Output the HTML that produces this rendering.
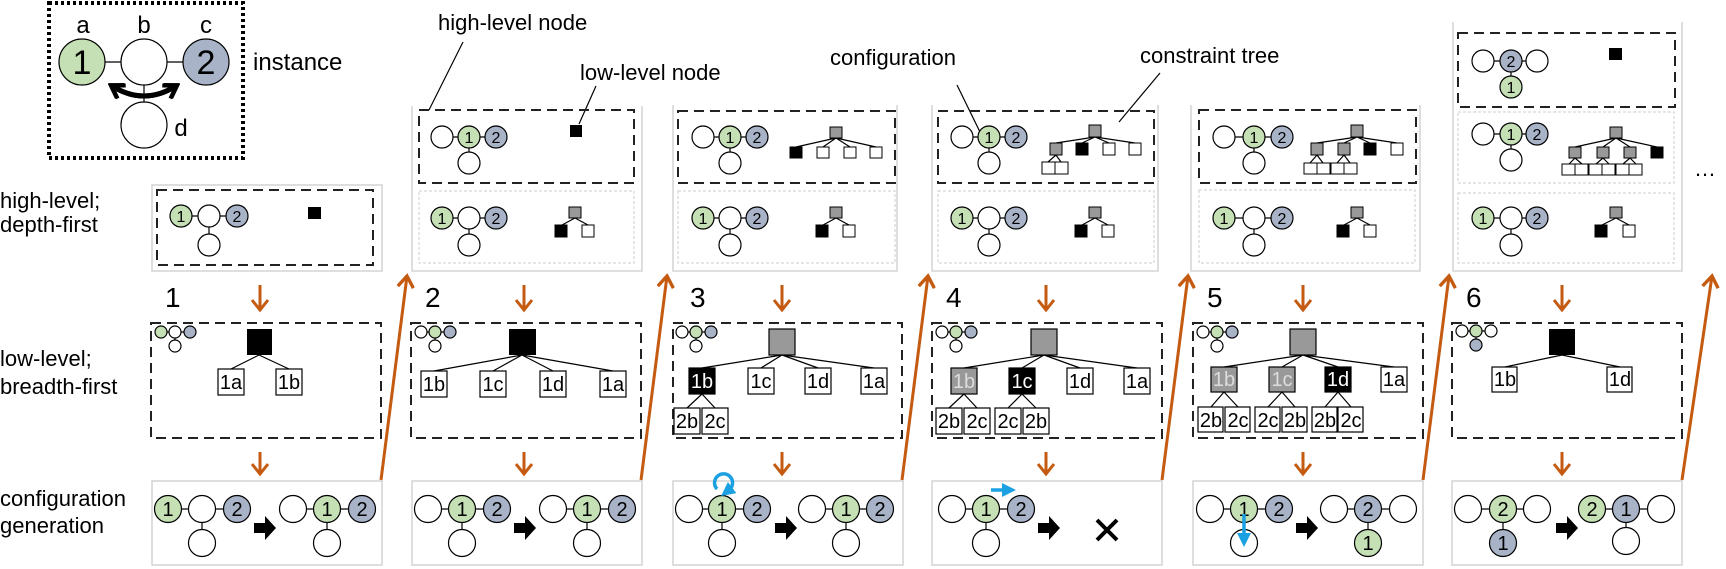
<!DOCTYPE html>
<html><head><meta charset="utf-8"><style>
html,body{margin:0;padding:0;background:#fff;}
svg{display:block;font-family:"Liberation Sans",Arial,sans-serif;}
</style></head><body>
<svg width="1726" height="569" viewBox="0 0 1726 569" xmlns="http://www.w3.org/2000/svg">
<defs>
<marker id="oh" markerUnits="userSpaceOnUse" markerWidth="18" markerHeight="18" viewBox="0 0 16 16" refX="13" refY="8" orient="auto"><path d="M3,1 L13,8 L3,15" fill="none" stroke="#c55a11" stroke-width="3"/></marker>
<marker id="bh" markerUnits="userSpaceOnUse" markerWidth="18" markerHeight="18" viewBox="0 0 16 16" refX="12" refY="8" orient="auto"><path d="M2,1 L13,8 L2,15" fill="none" stroke="#000" stroke-width="4"/></marker>
<marker id="ch" markerUnits="userSpaceOnUse" markerWidth="14" markerHeight="14" viewBox="0 0 14 14" refX="4" refY="7" orient="auto"><path d="M0,0 L14,7 L0,14 Z" fill="#1ba1e2"/></marker>
</defs>
<style>
.c{stroke:#000;stroke-width:1.2;}
.w{fill:#fff}.g{fill:#c5e0b4}.b{fill:#a8b3c8}
.ln{stroke:#000;stroke-width:1.2}
.d2{fill:none;stroke:#222;stroke-width:2;stroke-dasharray:10,6}
.dl{fill:none;stroke:#ccc;stroke-width:1;stroke-dasharray:3,2}
.gb{fill:none;stroke:#ccc;stroke-width:1.3}
.o{stroke:#c55a11;stroke-width:3;fill:none}
.t20{font-size:20px;text-anchor:middle}
.t16{font-size:16px;text-anchor:middle}
.bx{fill:#fff;stroke:#000;stroke-width:1.2}
.bk{fill:#000;stroke:#000;stroke-width:1.2}
.gy{fill:#999;stroke:#000;stroke-width:1.2}
.sq{stroke:#000;stroke-width:1}
</style>

<!-- instance -->
<rect x="49" y="3" width="194" height="155" fill="none" stroke="#000" stroke-width="4" stroke-dasharray="3,3"/>
<line x1="82" y1="62" x2="206" y2="62" class="ln"/><line x1="144" y1="62" x2="144" y2="125" class="ln"/>
<circle cx="82" cy="62" r="23" class="c g"/><circle cx="144" cy="62" r="23" class="c w"/><circle cx="206" cy="62" r="23" class="c b"/><circle cx="144" cy="125" r="23" class="c w"/>
<text x="82" y="74" font-size="34" text-anchor="middle">1</text><text x="206" y="74" font-size="34" text-anchor="middle">2</text>
<path d="M176,86 Q144,106 112,86" fill="none" stroke="#000" stroke-width="5" marker-end="url(#bh)"/>
<path d="M112,86 Q144,106 176,86" fill="none" stroke="#000" stroke-width="5" marker-end="url(#bh)"/>
<text x="83" y="33" font-size="24" text-anchor="middle">a</text><text x="144" y="33" font-size="24" text-anchor="middle">b</text><text x="206" y="33" font-size="24" text-anchor="middle">c</text><text x="181" y="136" font-size="24" text-anchor="middle">d</text>
<text x="253" y="70" font-size="24">instance</text>

<!-- row labels -->
<g font-size="22">
<text x="0" y="208">high-level;</text><text x="0" y="232">depth-first</text>
<text x="0" y="366">low-level;</text><text x="0" y="394">breadth-first</text>
<text x="0" y="506">configuration</text><text x="0" y="533">generation</text>
</g>

<!-- annotations -->
<g font-size="22">
<text x="438" y="30">high-level node</text>
<text x="580" y="80">low-level node</text>
<text x="830" y="65">configuration</text>
<text x="1140" y="63">constraint tree</text>
</g>
<line x1="463" y1="42" x2="429" y2="110" class="ln"/>
<line x1="596" y1="86" x2="579" y2="124" class="ln"/>
<line x1="957" y1="85" x2="980" y2="132" class="ln"/>
<line x1="1160" y1="73" x2="1119" y2="122" class="ln"/>
<text x="1694" y="176" font-size="22">…</text>

<!-- col1 high box -->
<rect x="152" y="185" width="230" height="86" class="gb"/>
<rect x="157" y="190" width="216" height="75" class="d2"/>
<line x1="181" y1="216" x2="237" y2="216" class="ln"/><line x1="209" y1="216" x2="209" y2="245" class="ln"/>
<circle cx="181" cy="216" r="11" class="c g"/><circle cx="209" cy="216" r="11" class="c w"/><circle cx="237" cy="216" r="11" class="c b"/><circle cx="209" cy="245" r="11" class="c w"/>
<text x="181" y="222" class="t16">1</text><text x="237" y="222" class="t16">2</text>
<rect x="308" y="207" width="13" height="12" fill="#000"/>

<!-- stacks: gray frames -->
<g class="gb">
<path d="M412,106 V271 H642 V106"/>
<path d="M673,105 V271 H897 V105"/>
<path d="M932,105 V271 H1158 V105"/>
<path d="M1191,105 V271 H1420 V105"/>
<path d="M1453,22 V271 H1682 V22"/>
</g>

<!-- col2 stack -->
<g transform="translate(412,0)">
<rect x="7" y="110" width="215" height="73" class="d2"/>
<rect x="7" y="191" width="215" height="72" class="dl"/>
<line x1="30" y1="137" x2="84" y2="137" class="ln"/><line x1="57" y1="137" x2="57" y2="163" class="ln"/>
<circle cx="30" cy="137" r="11" class="c w"/><circle cx="57" cy="137" r="11" class="c g"/><circle cx="84" cy="137" r="11" class="c b"/><circle cx="57" cy="163" r="11" class="c w"/>
<text x="57" y="143" class="t16">1</text><text x="84" y="143" class="t16">2</text>
<rect x="158" y="125" width="12" height="12" fill="#000"/>
<line x1="30" y1="218" x2="84" y2="218" class="ln"/><line x1="57" y1="218" x2="57" y2="245" class="ln"/>
<circle cx="30" cy="218" r="11" class="c g"/><circle cx="57" cy="218" r="11" class="c w"/><circle cx="84" cy="218" r="11" class="c b"/><circle cx="57" cy="245" r="11" class="c w"/>
<text x="30" y="224" class="t16">1</text><text x="84" y="224" class="t16">2</text>
<path d="M163,218 L150,225 M163,218 L176,225" class="ln"/>
<rect x="157" y="207" width="12" height="11" class="gy sq"/><rect x="143" y="225" width="12" height="12" class="bk sq"/><rect x="170" y="225" width="12" height="12" class="bx sq"/>
</g>

<!-- col3 stack -->
<g transform="translate(673,0)">
<rect x="5" y="111" width="217" height="72" class="d2"/>
<rect x="5" y="191" width="217" height="72" class="dl"/>
<line x1="30" y1="137" x2="84" y2="137" class="ln"/><line x1="57" y1="137" x2="57" y2="163" class="ln"/>
<circle cx="30" cy="137" r="11" class="c w"/><circle cx="57" cy="137" r="11" class="c g"/><circle cx="84" cy="137" r="11" class="c b"/><circle cx="57" cy="163" r="11" class="c w"/>
<text x="57" y="143" class="t16">1</text><text x="84" y="143" class="t16">2</text>
<path d="M163,138 L123,147 M163,138 L150,147 M163,138 L177,147 M163,138 L203,147" class="ln"/>
<rect x="157" y="127" width="12" height="11" class="gy sq"/>
<rect x="117" y="147" width="12" height="11" class="bk sq"/><rect x="144" y="147" width="12" height="11" class="bx sq"/><rect x="171" y="147" width="12" height="11" class="bx sq"/><rect x="197" y="147" width="12" height="11" class="bx sq"/>
<line x1="30" y1="218" x2="84" y2="218" class="ln"/><line x1="57" y1="218" x2="57" y2="245" class="ln"/>
<circle cx="30" cy="218" r="11" class="c g"/><circle cx="57" cy="218" r="11" class="c w"/><circle cx="84" cy="218" r="11" class="c b"/><circle cx="57" cy="245" r="11" class="c w"/>
<text x="30" y="224" class="t16">1</text><text x="84" y="224" class="t16">2</text>
<path d="M163,218 L150,225 M163,218 L176,225" class="ln"/>
<rect x="157" y="207" width="12" height="11" class="gy sq"/><rect x="143" y="225" width="12" height="12" class="bk sq"/><rect x="170" y="225" width="12" height="12" class="bx sq"/>
</g>

<!-- col4 stack -->
<g transform="translate(932,0)">
<rect x="6" y="111" width="216" height="72" class="d2"/>
<rect x="6" y="191" width="216" height="72" class="dl"/>
<line x1="30" y1="137" x2="84" y2="137" class="ln"/><line x1="57" y1="137" x2="57" y2="163" class="ln"/>
<circle cx="30" cy="137" r="11" class="c w"/><circle cx="57" cy="137" r="11" class="c g"/><circle cx="84" cy="137" r="11" class="c b"/><circle cx="57" cy="163" r="11" class="c w"/>
<text x="57" y="143" class="t16">1</text><text x="84" y="143" class="t16">2</text>
<path d="M163,137 L124,143 M163,137 L150,143 M163,137 L177,143 M163,137 L203,143 M124,155 L116,162 M124,155 L129,162" class="ln"/>
<rect x="157" y="125" width="12" height="12" class="gy sq"/>
<rect x="118" y="143" width="12" height="12" class="gy sq"/><rect x="144" y="143" width="12" height="12" class="bk sq"/><rect x="171" y="143" width="12" height="12" class="bx sq"/><rect x="197" y="143" width="12" height="12" class="bx sq"/>
<rect x="110" y="162" width="13" height="12" class="bx sq"/><rect x="123" y="162" width="13" height="12" class="bx sq"/>
<line x1="30" y1="218" x2="84" y2="218" class="ln"/><line x1="57" y1="218" x2="57" y2="245" class="ln"/>
<circle cx="30" cy="218" r="11" class="c g"/><circle cx="57" cy="218" r="11" class="c w"/><circle cx="84" cy="218" r="11" class="c b"/><circle cx="57" cy="245" r="11" class="c w"/>
<text x="30" y="224" class="t16">1</text><text x="84" y="224" class="t16">2</text>
<path d="M163,218 L150,225 M163,218 L176,225" class="ln"/>
<rect x="157" y="207" width="12" height="11" class="gy sq"/><rect x="143" y="225" width="12" height="12" class="bk sq"/><rect x="170" y="225" width="12" height="12" class="bx sq"/>
</g>

<!-- col5 stack -->
<g transform="translate(1191,0)">
<rect x="8" y="110" width="217" height="73" class="d2"/>
<rect x="8" y="190" width="216" height="73" class="dl"/>
<line x1="33" y1="137" x2="91" y2="137" class="ln"/><line x1="63" y1="137" x2="63" y2="163" class="ln"/>
<circle cx="33" cy="137" r="11" class="c w"/><circle cx="63" cy="137" r="11" class="c g"/><circle cx="91" cy="137" r="11" class="c b"/><circle cx="63" cy="163" r="11" class="c w"/>
<text x="63" y="143" class="t16">1</text><text x="91" y="143" class="t16">2</text>
<path d="M166,137 L126,143 M166,137 L153,143 M166,137 L179,143 M166,137 L206,143 M126,155 L119,163 M126,155 L132,163 M153,155 L146,163 M153,155 L159,163" class="ln"/>
<rect x="160" y="125" width="12" height="12" class="gy sq"/>
<rect x="120" y="143" width="12" height="12" class="gy sq"/><rect x="147" y="143" width="12" height="12" class="gy sq"/><rect x="173" y="143" width="12" height="12" class="bk sq"/><rect x="200" y="143" width="12" height="12" class="bx sq"/>
<rect x="113" y="163" width="13" height="11" class="bx sq"/><rect x="126" y="163" width="13" height="11" class="bx sq"/><rect x="140" y="163" width="13" height="11" class="bx sq"/><rect x="153" y="163" width="13" height="11" class="bx sq"/>
<line x1="33" y1="218" x2="91" y2="218" class="ln"/><line x1="63" y1="218" x2="63" y2="245" class="ln"/>
<circle cx="33" cy="218" r="11" class="c g"/><circle cx="63" cy="218" r="11" class="c w"/><circle cx="91" cy="218" r="11" class="c b"/><circle cx="63" cy="245" r="11" class="c w"/>
<text x="33" y="224" class="t16">1</text><text x="91" y="224" class="t16">2</text>
<path d="M166,218 L153,225 M166,218 L179,225" class="ln"/>
<rect x="160" y="207" width="12" height="11" class="gy sq"/><rect x="146" y="225" width="12" height="12" class="bk sq"/><rect x="173" y="225" width="12" height="12" class="bx sq"/>
</g>

<!-- col6 stack -->
<g transform="translate(1453,0)">
<rect x="5" y="33" width="217" height="74" class="d2"/>
<rect x="5" y="112" width="216" height="71" class="dl"/>
<rect x="5" y="193" width="216" height="70" class="dl"/>
<line x1="30" y1="61" x2="84" y2="61" class="ln"/><line x1="58" y1="61" x2="58" y2="87" class="ln"/>
<circle cx="30" cy="61" r="11" class="c w"/><circle cx="58" cy="61" r="11" class="c b"/><circle cx="84" cy="61" r="11" class="c w"/><circle cx="58" cy="87" r="11" class="c g"/>
<text x="58" y="67" class="t16">2</text><text x="58" y="93" class="t16">1</text>
<rect x="156" y="48" width="13" height="12" fill="#000"/>
<line x1="30" y1="134" x2="84" y2="134" class="ln"/><line x1="58" y1="134" x2="58" y2="160" class="ln"/>
<circle cx="30" cy="134" r="11" class="c w"/><circle cx="58" cy="134" r="11" class="c g"/><circle cx="84" cy="134" r="11" class="c b"/><circle cx="58" cy="160" r="11" class="c w"/>
<text x="58" y="140" class="t16">1</text><text x="84" y="140" class="t16">2</text>
<path d="M163,138 L122,147 M163,138 L150,147 M163,138 L177,147 M163,138 L204,147 M122,158 L116,164 M122,158 L129,164 M150,158 L143,164 M150,158 L156,164 M177,158 L170,164 M177,158 L183,164" class="ln"/>
<rect x="157" y="127" width="12" height="11" class="gy sq"/>
<rect x="116" y="147" width="12" height="11" class="gy sq"/><rect x="144" y="147" width="12" height="11" class="gy sq"/><rect x="171" y="147" width="12" height="11" class="gy sq"/><rect x="198" y="147" width="12" height="11" class="bk sq"/>
<rect x="109" y="164" width="13" height="11" class="bx sq"/><rect x="122" y="164" width="13" height="11" class="bx sq"/><rect x="136" y="164" width="13" height="11" class="bx sq"/><rect x="149" y="164" width="13" height="11" class="bx sq"/><rect x="163" y="164" width="13" height="11" class="bx sq"/><rect x="176" y="164" width="13" height="11" class="bx sq"/>
<line x1="30" y1="218" x2="84" y2="218" class="ln"/><line x1="58" y1="218" x2="58" y2="245" class="ln"/>
<circle cx="30" cy="218" r="11" class="c g"/><circle cx="58" cy="218" r="11" class="c w"/><circle cx="84" cy="218" r="11" class="c b"/><circle cx="58" cy="245" r="11" class="c w"/>
<text x="30" y="224" class="t16">1</text><text x="84" y="224" class="t16">2</text>
<path d="M163,218 L149,225 M163,218 L176,225" class="ln"/>
<rect x="157" y="207" width="12" height="11" class="gy sq"/><rect x="142" y="225" width="12" height="12" class="bk sq"/><rect x="170" y="225" width="12" height="12" class="bx sq"/>
</g>

<!-- ===== lower columns ===== -->
<!-- common per column: number, arrows, boxes -->
<g transform="translate(151,0)">
<text x="14" y="307" font-size="28">1</text>
<path d="M109,285 V309 M101,300 L109,310 L117,300" class="o"/>
<path d="M109,452 V473 M101,464 L109,474 L117,464" class="o"/>
<rect x="0" y="323" width="230" height="115" class="d2"/>
<rect x="1" y="481" width="230" height="84" class="gb"/>
<line x1="230" y1="480" x2="256" y2="276" class="o" marker-end="url(#oh)"/>
<line x1="10" y1="332" x2="39" y2="332" class="ln"/><line x1="24" y1="332" x2="24" y2="346" class="ln"/>
<circle cx="10" cy="332" r="6" class="c g"/><circle cx="24" cy="332" r="6" class="c w"/><circle cx="39" cy="332" r="6" class="c b"/><circle cx="24" cy="346" r="6" class="c w"/>
<path d="M108,355 L80,369 M108,355 L138,369" class="ln"/>
<rect x="96" y="329" width="25" height="26" fill="#000"/>
<rect x="67" y="369" width="26" height="26" class="bx"/><text x="80" y="389" class="t20">1a</text>
<rect x="125" y="369" width="26" height="26" class="bx"/><text x="138" y="389" class="t20">1b</text>
<!-- config gen -->
<line x1="17" y1="509" x2="86" y2="509" class="ln"/><line x1="51" y1="509" x2="51" y2="543" class="ln"/>
<circle cx="17" cy="509" r="13.5" class="c g"/><circle cx="51" cy="509" r="13.5" class="c w"/><circle cx="86" cy="509" r="13.5" class="c b"/><circle cx="51" cy="543" r="13.5" class="c w"/>
<text x="17" y="516" class="t20">1</text><text x="86" y="516" class="t20">2</text>
<polygon points="103,523 114,523 114,516 125,528 114,540 114,533 103,533"/>
<line x1="142" y1="509" x2="211" y2="509" class="ln"/><line x1="176" y1="509" x2="176" y2="543" class="ln"/>
<circle cx="142" cy="509" r="13.5" class="c w"/><circle cx="176" cy="509" r="13.5" class="c g"/><circle cx="211" cy="509" r="13.5" class="c b"/><circle cx="176" cy="543" r="13.5" class="c w"/>
<text x="176" y="516" class="t20">1</text><text x="211" y="516" class="t20">2</text>
</g>

<g transform="translate(411,0)">
<text x="14" y="307" font-size="28">2</text>
<path d="M113,285 V309 M105,300 L113,310 L121,300" class="o"/>
<path d="M113,452 V473 M105,464 L113,474 L121,464" class="o"/>
<rect x="0" y="323" width="230" height="115" class="d2"/>
<rect x="1" y="481" width="230" height="84" class="gb"/>
<line x1="230" y1="480" x2="256" y2="276" class="o" marker-end="url(#oh)"/>
<line x1="10" y1="332" x2="39" y2="332" class="ln"/><line x1="24" y1="332" x2="24" y2="346" class="ln"/>
<circle cx="10" cy="332" r="6" class="c w"/><circle cx="24" cy="332" r="6" class="c g"/><circle cx="39" cy="332" r="6" class="c b"/><circle cx="24" cy="346" r="6" class="c w"/>
<path d="M111,355 L23,371 M111,355 L82,371 M111,355 L142,371 M111,355 L202,371" class="ln"/>
<rect x="98" y="329" width="27" height="26" fill="#000"/>
<rect x="10" y="371" width="26" height="26" class="bx"/><text x="23" y="391" class="t20">1b</text>
<rect x="69" y="371" width="26" height="26" class="bx"/><text x="82" y="391" class="t20">1c</text>
<rect x="129" y="371" width="26" height="26" class="bx"/><text x="142" y="391" class="t20">1d</text>
<rect x="189" y="371" width="26" height="26" class="bx"/><text x="202" y="391" class="t20">1a</text>
<line x1="17" y1="509" x2="86" y2="509" class="ln"/><line x1="51" y1="509" x2="51" y2="543" class="ln"/>
<circle cx="17" cy="509" r="13.5" class="c w"/><circle cx="51" cy="509" r="13.5" class="c g"/><circle cx="86" cy="509" r="13.5" class="c b"/><circle cx="51" cy="543" r="13.5" class="c w"/>
<text x="51" y="516" class="t20">1</text><text x="86" y="516" class="t20">2</text>
<polygon points="103,523 114,523 114,516 125,528 114,540 114,533 103,533"/>
<line x1="142" y1="509" x2="211" y2="509" class="ln"/><line x1="176" y1="509" x2="176" y2="543" class="ln"/>
<circle cx="142" cy="509" r="13.5" class="c w"/><circle cx="176" cy="509" r="13.5" class="c g"/><circle cx="211" cy="509" r="13.5" class="c b"/><circle cx="176" cy="543" r="13.5" class="c w"/>
<text x="176" y="516" class="t20">1</text><text x="211" y="516" class="t20">2</text>
</g>

<g transform="translate(672,0)">
<text x="18" y="307" font-size="28">3</text>
<path d="M110,285 V309 M102,300 L110,310 L118,300" class="o"/>
<path d="M110,452 V473 M102,464 L110,474 L118,464" class="o"/>
<rect x="1" y="323" width="229" height="115" class="d2"/>
<rect x="1" y="481" width="230" height="84" class="gb"/>
<line x1="230" y1="480" x2="256" y2="276" class="o" marker-end="url(#oh)"/>
<line x1="10" y1="332" x2="39" y2="332" class="ln"/><line x1="24" y1="332" x2="24" y2="346" class="ln"/>
<circle cx="10" cy="332" r="6" class="c w"/><circle cx="24" cy="332" r="6" class="c g"/><circle cx="39" cy="332" r="6" class="c b"/><circle cx="24" cy="346" r="6" class="c w"/>
<path d="M110,355 L30,368 M110,355 L89,368 M110,355 L146,368 M110,355 L202,368 M30,394 L15,408 M30,394 L43,408" class="ln"/>
<rect x="97" y="329" width="26" height="26" class="gy"/>
<rect x="17" y="368" width="26" height="26" class="bk"/><text x="30" y="388" class="t20" fill="#fff">1b</text>
<rect x="76" y="368" width="26" height="26" class="bx"/><text x="89" y="388" class="t20">1c</text>
<rect x="133" y="368" width="26" height="26" class="bx"/><text x="146" y="388" class="t20">1d</text>
<rect x="189" y="368" width="26" height="26" class="bx"/><text x="202" y="388" class="t20">1a</text>
<rect x="2" y="408" width="26" height="26" class="bx"/><text x="15" y="428" class="t20">2b</text>
<rect x="30" y="408" width="26" height="26" class="bx"/><text x="43" y="428" class="t20">2c</text>
<line x1="17" y1="509" x2="85" y2="509" class="ln"/><line x1="50" y1="509" x2="50" y2="543" class="ln"/>
<circle cx="17" cy="509" r="13.5" class="c w"/><circle cx="50" cy="509" r="13.5" class="c g"/><circle cx="85" cy="509" r="13.5" class="c b"/><circle cx="50" cy="543" r="13.5" class="c w"/>
<text x="50" y="516" class="t20">1</text><text x="85" y="516" class="t20">2</text>
<path d="M45,489 A9,9 0 1 1 57,490" fill="none" stroke="#1ba1e2" stroke-width="3.5" marker-end="url(#ch)"/>
<polygon points="103,523 114,523 114,516 125,528 114,540 114,533 103,533"/>
<line x1="140" y1="509" x2="208" y2="509" class="ln"/><line x1="174" y1="509" x2="174" y2="543" class="ln"/>
<circle cx="140" cy="509" r="13.5" class="c w"/><circle cx="174" cy="509" r="13.5" class="c g"/><circle cx="208" cy="509" r="13.5" class="c b"/><circle cx="174" cy="543" r="13.5" class="c w"/>
<text x="174" y="516" class="t20">1</text><text x="208" y="516" class="t20">2</text>
</g>

<g transform="translate(932,0)">
<text x="14" y="307" font-size="28">4</text>
<path d="M114,285 V309 M106,300 L114,310 L122,300" class="o"/>
<path d="M114,452 V473 M106,464 L114,474 L122,464" class="o"/>
<rect x="0" y="323" width="230" height="115" class="d2"/>
<rect x="0" y="481" width="230" height="84" class="gb"/>
<line x1="230" y1="480" x2="256" y2="276" class="o" marker-end="url(#oh)"/>
<line x1="10" y1="332" x2="39" y2="332" class="ln"/><line x1="24" y1="332" x2="24" y2="346" class="ln"/>
<circle cx="10" cy="332" r="6" class="c w"/><circle cx="24" cy="332" r="6" class="c g"/><circle cx="39" cy="332" r="6" class="c b"/><circle cx="24" cy="346" r="6" class="c w"/>
<path d="M112,355 L32,368 M112,355 L90,368 M112,355 L148,368 M112,355 L205,368 M32,394 L17,408 M32,394 L45,408 M90,394 L76,408 M90,394 L104,408" class="ln"/>
<rect x="99" y="329" width="26" height="26" class="gy"/>
<rect x="19" y="368" width="26" height="26" class="gy"/><text x="32" y="388" class="t20" fill="#ddd">1b</text>
<rect x="77" y="368" width="26" height="26" class="bk"/><text x="90" y="388" class="t20" fill="#fff">1c</text>
<rect x="135" y="368" width="26" height="26" class="bx"/><text x="148" y="388" class="t20">1d</text>
<rect x="192" y="368" width="26" height="26" class="bx"/><text x="205" y="388" class="t20">1a</text>
<rect x="4" y="408" width="26" height="26" class="bx"/><text x="17" y="428" class="t20">2b</text>
<rect x="32" y="408" width="26" height="26" class="bx"/><text x="45" y="428" class="t20">2c</text>
<rect x="63" y="408" width="26" height="26" class="bx"/><text x="76" y="428" class="t20">2c</text>
<rect x="91" y="408" width="26" height="26" class="bx"/><text x="104" y="428" class="t20">2b</text>
<line x1="20" y1="509" x2="89" y2="509" class="ln"/><line x1="54" y1="509" x2="54" y2="543" class="ln"/>
<circle cx="20" cy="509" r="13.5" class="c w"/><circle cx="54" cy="509" r="13.5" class="c g"/><circle cx="89" cy="509" r="13.5" class="c b"/><circle cx="54" cy="543" r="13.5" class="c w"/>
<text x="54" y="516" class="t20">1</text><text x="89" y="516" class="t20">2</text>
<line x1="59" y1="490" x2="74" y2="490" stroke="#1ba1e2" stroke-width="3.5" marker-end="url(#ch)"/>
<polygon points="106,523 117,523 117,516 128,528 117,540 117,533 106,533"/>
<path d="M165,520 L185,540 M185,520 L165,540" stroke="#000" stroke-width="4"/>
</g>

<g transform="translate(1193,0)">
<text x="14" y="307" font-size="28">5</text>
<path d="M110,285 V309 M102,300 L110,310 L118,300" class="o"/>
<path d="M110,452 V473 M102,464 L110,474 L118,464" class="o"/>
<rect x="0" y="323" width="230" height="115" class="d2"/>
<rect x="0" y="481" width="230" height="84" class="gb"/>
<line x1="230" y1="480" x2="256" y2="276" class="o" marker-end="url(#oh)"/>
<line x1="10" y1="332" x2="39" y2="332" class="ln"/><line x1="24" y1="332" x2="24" y2="346" class="ln"/>
<circle cx="10" cy="332" r="6" class="c w"/><circle cx="24" cy="332" r="6" class="c g"/><circle cx="39" cy="332" r="6" class="c b"/><circle cx="24" cy="346" r="6" class="c w"/>
<path d="M110,355 L31,367 M110,355 L89,367 M110,355 L145,367 M110,355 L201,367 M31,392 L18,407 M31,392 L45,407 M89,392 L75,407 M89,392 L102,407 M145,392 L132,407 M145,392 L158,407" class="ln"/>
<rect x="97" y="329" width="26" height="26" class="gy"/>
<rect x="18" y="367" width="26" height="25" class="gy"/><text x="31" y="386" class="t20" fill="#ddd">1b</text>
<rect x="76" y="367" width="26" height="25" class="gy"/><text x="89" y="386" class="t20" fill="#ddd">1c</text>
<rect x="132" y="367" width="26" height="25" class="bk"/><text x="145" y="386" class="t20" fill="#fff">1d</text>
<rect x="188" y="367" width="26" height="25" class="bx"/><text x="201" y="386" class="t20">1a</text>
<rect x="5" y="407" width="25" height="25" class="bx"/><text x="18" y="427" class="t20">2b</text>
<rect x="32" y="407" width="25" height="25" class="bx"/><text x="45" y="427" class="t20">2c</text>
<rect x="62" y="407" width="25" height="25" class="bx"/><text x="75" y="427" class="t20">2c</text>
<rect x="89" y="407" width="25" height="25" class="bx"/><text x="102" y="427" class="t20">2b</text>
<rect x="119" y="407" width="25" height="25" class="bx"/><text x="132" y="427" class="t20">2b</text>
<rect x="145" y="407" width="25" height="25" class="bx"/><text x="158" y="427" class="t20">2c</text>
<line x1="17" y1="509" x2="86" y2="509" class="ln"/><line x1="51" y1="509" x2="51" y2="543" class="ln"/>
<circle cx="17" cy="509" r="13.5" class="c w"/><circle cx="51" cy="509" r="13.5" class="c g"/><circle cx="86" cy="509" r="13.5" class="c b"/><circle cx="51" cy="543" r="13.5" class="c w"/>
<text x="51" y="516" class="t20">1</text><text x="86" y="516" class="t20">2</text>
<line x1="51" y1="514" x2="51" y2="537" stroke="#1ba1e2" stroke-width="3.5" marker-end="url(#ch)"/>
<polygon points="103,523 114,523 114,516 125,528 114,540 114,533 103,533"/>
<line x1="141" y1="509" x2="210" y2="509" class="ln"/><line x1="175" y1="509" x2="175" y2="543" class="ln"/>
<circle cx="141" cy="509" r="13.5" class="c w"/><circle cx="175" cy="509" r="13.5" class="c b"/><circle cx="210" cy="509" r="13.5" class="c w"/><circle cx="175" cy="543" r="13.5" class="c g"/>
<text x="175" y="516" class="t20">2</text><text x="175" y="550" class="t20">1</text>
</g>

<g transform="translate(1452,0)">
<text x="14" y="307" font-size="28">6</text>
<path d="M110,285 V309 M102,300 L110,310 L118,300" class="o"/>
<path d="M110,452 V473 M102,464 L110,474 L118,464" class="o"/>
<rect x="0" y="323" width="230" height="115" class="d2"/>
<rect x="0" y="481" width="230" height="84" class="gb"/>
<line x1="230" y1="480" x2="260" y2="276" class="o" marker-end="url(#oh)"/>
<line x1="10" y1="331" x2="39" y2="331" class="ln"/><line x1="24" y1="331" x2="24" y2="345" class="ln"/>
<circle cx="10" cy="331" r="6" class="c w"/><circle cx="24" cy="331" r="6" class="c g"/><circle cx="39" cy="331" r="6" class="c w"/><circle cx="24" cy="345" r="6" class="c b"/>
<path d="M110,355 L53,367 M110,355 L168,367" class="ln"/>
<rect x="97" y="329" width="26" height="26" fill="#000"/>
<rect x="40" y="367" width="25" height="25" class="bx"/><text x="53" y="386" class="t20">1b</text>
<rect x="155" y="367" width="25" height="25" class="bx"/><text x="168" y="386" class="t20">1d</text>
<line x1="16" y1="509" x2="85" y2="509" class="ln"/><line x1="51" y1="509" x2="51" y2="543" class="ln"/>
<circle cx="16" cy="509" r="13.5" class="c w"/><circle cx="51" cy="509" r="13.5" class="c g"/><circle cx="85" cy="509" r="13.5" class="c w"/><circle cx="51" cy="543" r="13.5" class="c b"/>
<text x="51" y="516" class="t20">2</text><text x="51" y="550" class="t20">1</text>
<polygon points="104,523 115,523 115,516 126,528 115,540 115,533 104,533"/>
<line x1="140" y1="509" x2="209" y2="509" class="ln"/><line x1="174" y1="509" x2="174" y2="541" class="ln"/>
<circle cx="140" cy="509" r="13.5" class="c g"/><circle cx="174" cy="509" r="13.5" class="c b"/><circle cx="209" cy="509" r="13.5" class="c w"/><circle cx="174" cy="541" r="13.5" class="c w"/>
<text x="140" y="516" class="t20">2</text><text x="174" y="516" class="t20">1</text>
</g>
</svg>
</body></html>
